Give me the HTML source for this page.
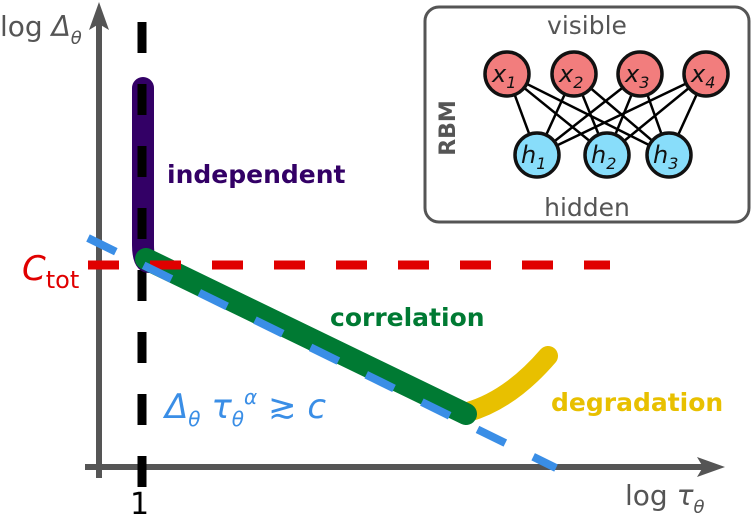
<!DOCTYPE html>
<html><head><meta charset="utf-8"><style>
html,body{margin:0;padding:0;background:#fff;}
svg{display:block;font-family:"DejaVu Sans","Liberation Sans",sans-serif;}
</style></head><body>
<svg width="752" height="519" viewBox="0 0 752 519" xmlns="http://www.w3.org/2000/svg">
<!-- axes -->
<line x1="99" y1="478" x2="99" y2="22" stroke="#555" stroke-width="6"/>
<polygon points="99,2 89,30 99,24 109,30" fill="#555"/>
<line x1="85" y1="467" x2="705" y2="467" stroke="#555" stroke-width="6"/>
<polygon points="725,467 697,457 703,467 697,477" fill="#555"/>
<!-- black dashed vertical -->
<line x1="142" y1="22" x2="142" y2="492" stroke="#000" stroke-width="9" stroke-dasharray="31,31"/>
<!-- purple -->
<path d="M143,88 L143,245 Q143,262 150,262" fill="none" stroke="#330066" stroke-width="22" stroke-linecap="round"/>
<line x1="142" y1="80" x2="142" y2="250" stroke="#000" stroke-width="9" stroke-dasharray="31,31" stroke-dashoffset="-4"/>
<!-- yellow -->
<path d="M468,412 Q510,400 548,356" fill="none" stroke="#e8c000" stroke-width="20" stroke-linecap="round"/>
<!-- green -->
<line x1="146" y1="259" x2="466" y2="414" stroke="#007a33" stroke-width="22" stroke-linecap="round"/>
<!-- red dashed -->
<line x1="88" y1="265" x2="610" y2="265" stroke="#e00000" stroke-width="9" stroke-dasharray="31,31"/>
<!-- blue dashed -->
<line x1="88" y1="238" x2="556" y2="468" stroke="#3a8ee6" stroke-width="8" stroke-dasharray="31,31"/>
<!-- labels -->
<text x="0" y="36" font-size="28" fill="#555">log <tspan font-style="italic">Δ</tspan><tspan font-style="italic" font-size="18" dy="8">θ</tspan></text>
<text x="22" y="280" font-size="34" fill="#e00000" font-style="italic">C<tspan font-style="normal" font-size="24" dy="8">tot</tspan></text>
<text x="167" y="183" font-size="25" font-weight="bold" fill="#330066">independent</text>
<text x="330" y="326" font-size="25" font-weight="bold" fill="#007a33">correlation</text>
<text x="551" y="411" font-size="25" font-weight="bold" fill="#e8c000">degradation</text>
<text x="165" y="418" font-size="34" fill="#3a8ee6" font-style="italic">Δ<tspan font-size="20" dy="8">θ</tspan><tspan dy="-8"> τ</tspan><tspan font-size="20" dy="8">θ</tspan><tspan font-size="20" dy="-22">α</tspan><tspan dy="14" font-style="normal"> ≳ </tspan>c</text>
<text x="130" y="514" font-size="30" fill="#000">1</text>
<text x="625" y="505" font-size="28" fill="#555">log <tspan font-style="italic">τ</tspan><tspan font-style="italic" font-size="18" dy="8">θ</tspan></text>
<!-- RBM box -->
<rect x="425" y="7" width="324" height="215" rx="14" fill="#fff" stroke="#555" stroke-width="3"/>
<text x="587" y="34" font-size="25" fill="#555" text-anchor="middle">visible</text>
<text x="587" y="216" font-size="25" fill="#555" text-anchor="middle">hidden</text>
<text transform="translate(455,128) rotate(-90)" font-size="22" font-weight="bold" fill="#555" text-anchor="middle">RBM</text>
<g stroke="#000" stroke-width="2.5">
<line x1="507" y1="74" x2="537" y2="155"/><line x1="507" y1="74" x2="607" y2="155"/><line x1="507" y1="74" x2="669" y2="155"/>
<line x1="574" y1="74" x2="537" y2="155"/><line x1="574" y1="74" x2="607" y2="155"/><line x1="574" y1="74" x2="669" y2="155"/>
<line x1="640" y1="74" x2="537" y2="155"/><line x1="640" y1="74" x2="607" y2="155"/><line x1="640" y1="74" x2="669" y2="155"/>
<line x1="706" y1="74" x2="537" y2="155"/><line x1="706" y1="74" x2="607" y2="155"/><line x1="706" y1="74" x2="669" y2="155"/>
</g>
<g stroke="#111" stroke-width="3.5" fill="#f27d7d">
<circle cx="507" cy="74" r="22"/><circle cx="574" cy="74" r="22"/><circle cx="640" cy="74" r="22"/><circle cx="706" cy="74" r="22"/>
</g>
<g stroke="#111" stroke-width="3.5" fill="#88ddfa">
<circle cx="537" cy="155" r="22"/><circle cx="607" cy="155" r="22"/><circle cx="669" cy="155" r="22"/>
</g>
<g font-size="24" font-style="italic" fill="#111">
<text x="492" y="82">x<tspan font-size="16" dy="6">1</tspan></text>
<text x="559" y="82">x<tspan font-size="16" dy="6">2</tspan></text>
<text x="625" y="82">x<tspan font-size="16" dy="6">3</tspan></text>
<text x="691" y="82">x<tspan font-size="16" dy="6">4</tspan></text>
<text x="521" y="163">h<tspan font-size="16" dy="6">1</tspan></text>
<text x="591" y="163">h<tspan font-size="16" dy="6">2</tspan></text>
<text x="653" y="163">h<tspan font-size="16" dy="6">3</tspan></text>
</g>
</svg>
</body></html>
